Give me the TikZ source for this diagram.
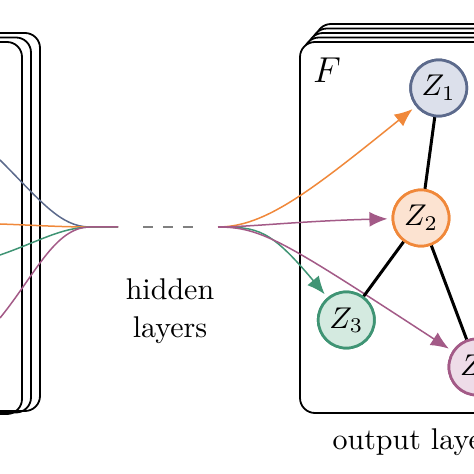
\documentclass[tikz,border=0pt]{standalone}
\usetikzlibrary{arrows.meta}
\definecolor{cblue}{HTML}{5C6A8C}
\definecolor{fblue}{HTML}{DCE0EB}
\definecolor{corange}{HTML}{F0883A}
\definecolor{forange}{HTML}{FCE3D1}
\definecolor{cgreen}{HTML}{3F9474}
\definecolor{fgreen}{HTML}{D4EAE0}
\definecolor{cpink}{HTML}{A35A87}
\definecolor{fpink}{HTML}{EEDCE8}
\definecolor{cdash}{HTML}{808080}
\begin{document}
\begin{tikzpicture}[x=0.3333pt,y=-0.3333pt,
  boxline/.style={draw=black,line width=0.6pt,rounded corners=5pt},
  znode/.style={circle,line width=0.9pt,minimum size=18.7pt,inner sep=0pt},
  flow/.style={line width=0.5pt},
  arr/.style={flow,-{Latex[length=6pt,width=5pt]},shorten >=1.4pt},
  link/.style={line width=1pt,draw=black}]
\useasboundingbox (0,0) rectangle (474,474);
\clip (0,0) rectangle (474,474);
% left stack
\draw[boxline] (-300,33) rectangle (40,411);
\draw[boxline] (-300,37.5) rectangle (31,412.5);
\draw[boxline] (-300,42) rectangle (22,414);
% right stack
\foreach \k in {4,3,2,1}{
  \draw[boxline,fill=white] ({300+4*\k},{42-4.5*\k}) rectangle ({534+4*\k},{413-4.5*\k});
}
\draw[boxline,fill=white] (300,42) rectangle (534,413);
% labels
\node[font=\large] (F) at (327,70) {$F$};
\node[align=center,font=\fontsize{10pt}{12.7pt}\selectfont] (hid) at (170,311) {hidden\\layers};
\node[anchor=base west,inner sep=0pt] (out) at (332,449) {output layer};
% coordinates
\coordinate (lb) at (0,160);
\coordinate (lo) at (0,224);
\coordinate (lg) at (0,255);
\coordinate (lp) at (0,318);
\coordinate (hL) at (90,227);
\coordinate (hLe) at (118,227);
\coordinate (d1) at (143,227);
\coordinate (d2) at (193,227);
\coordinate (hR) at (218,227);
% nodes
\node[znode,draw=cblue,fill=fblue] (Z1) at (438.7,88) {$Z_1$};
\node[znode,draw=corange,fill=forange] (Z2) at (421,218) {$Z_2$};
\node[znode,draw=cgreen,fill=fgreen] (Z3) at (346.3,320) {$Z_3$};
\node[znode,draw=cpink,fill=fpink] (Z4) at (477,367) {$Z_4$};
% left flows
\draw[flow,cblue] (lb) .. controls (40,200) and (60,227) .. (hL) -- (hLe);
\draw[flow,corange] (lo) .. controls (30,225) and (60,227) .. (hL) -- (hLe);
\draw[flow,cgreen] (lg) .. controls (40,241) and (60,228) .. (hL) -- (hLe);
\draw[flow,cpink] (lp) .. controls (35,275) and (55,227) .. (hL) -- (hLe);
% dashes
\draw[cdash,line width=0.7pt,dash pattern=on 3.3pt off 3.3pt] (d1) -- (d2);
% right flows
\draw[arr,corange] (hR) .. controls (265,227) and (311,191) .. (Z1);
\draw[arr,cgreen] (hR) .. controls (258,227) and (270,229) .. (Z3);
\draw[arr,cpink] (hR) .. controls (262,227) and (285,242) .. (Z4);
\draw[arr,cpink] (hR) .. controls (250,227) and (300,221) .. (Z2);
% links
\draw[link] (Z1) -- (Z2);
\draw[link] (Z2) -- (Z3);
\draw[link] (Z2) -- (Z4);
% redraw nodes on top
\node[znode,draw=cblue,fill=fblue] at (Z1) {$Z_1$};
\node[znode,draw=corange,fill=forange] at (Z2) {$Z_2$};
\node[znode,draw=cgreen,fill=fgreen] at (Z3) {$Z_3$};
\node[znode,draw=cpink,fill=fpink] at (Z4) {$Z_4$};
\end{tikzpicture}
\end{document}
